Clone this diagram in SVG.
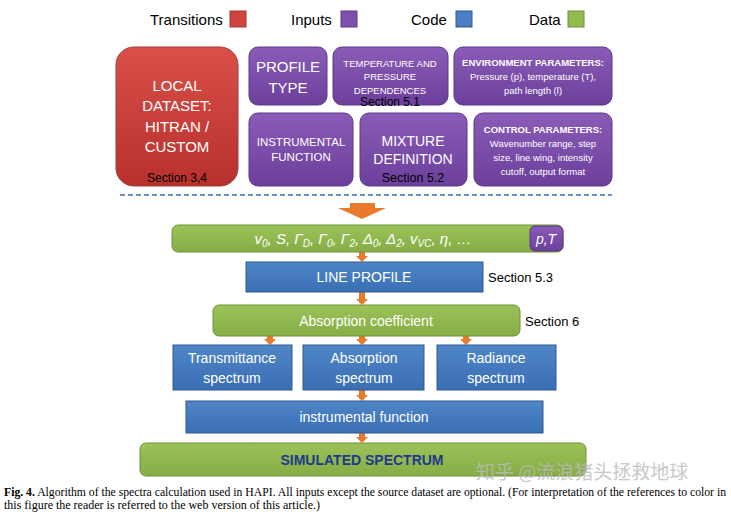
<svg xmlns="http://www.w3.org/2000/svg" width="731" height="512" viewBox="0 0 731 512">
<defs>
<linearGradient id="gr" x1="0" y1="0" x2="0" y2="1"><stop offset="0" stop-color="#d9504a"/><stop offset="1" stop-color="#b8302c"/></linearGradient>
<linearGradient id="gp" x1="0" y1="0" x2="0" y2="1"><stop offset="0" stop-color="#8a5cb8"/><stop offset="1" stop-color="#6c3f9c"/></linearGradient>
<linearGradient id="gb" x1="0" y1="0" x2="0" y2="1"><stop offset="0" stop-color="#4f86c8"/><stop offset="1" stop-color="#3a6fb3"/></linearGradient>
<linearGradient id="gg" x1="0" y1="0" x2="0" y2="1"><stop offset="0" stop-color="#9cc35a"/><stop offset="1" stop-color="#86ad45"/></linearGradient>
</defs>
<style>
text{font-family:"Liberation Sans","DejaVu Sans",sans-serif}
text.cap{font-family:"Liberation Serif",serif;font-size:11.5px;fill:#000}
text.wm{font-family:"Noto Sans CJK SC",sans-serif}
.r{fill:url(#gr);stroke:#a33a36;stroke-width:1}
.p{fill:url(#gp);stroke:#5b3a85;stroke-width:1}
.b{fill:url(#gb);stroke:#30598e;stroke-width:1}
.g{fill:url(#gg);stroke:#6f9236;stroke-width:1}
.w{fill:#fff;text-anchor:middle}
.k{fill:#000}
.a{fill:#e87a2e}
</style>
<rect width="731" height="512" fill="#fff"/>
<g id="legend" font-size="15">
<text x="150" y="25" class="k">Transitions</text><rect x="230" y="11" width="16" height="16" fill="#d04440" stroke="#a33a36"/>
<text x="291" y="25" class="k">Inputs</text><rect x="341" y="11" width="16" height="16" fill="#7e50ad" stroke="#5b3a85"/>
<text x="411" y="25" class="k">Code</text><rect x="456" y="11" width="16" height="16" fill="#4a80c3" stroke="#30598e"/>
<text x="529" y="25" class="k">Data</text><rect x="568" y="11" width="16" height="16" fill="#93bb50" stroke="#6f9236"/>
</g>
<g id="local"><rect class="r" x="116" y="47" width="122" height="139" rx="18"/>
<text class="w" font-size="15"><tspan x="177" y="91">LOCAL</tspan><tspan x="177" y="111">DATASET:</tspan><tspan x="177" y="132">HITRAN /</tspan><tspan x="177" y="152">CUSTOM</tspan></text>
<text x="177" y="182" font-size="12" text-anchor="middle" class="k">Section 3,4</text></g>
<g id="profile"><rect class="p" x="249" y="47" width="78" height="58" rx="9"/><text class="w" font-size="15"><tspan x="288" y="72">PROFILE</tspan><tspan x="288" y="93">TYPE</tspan></text></g>
<g id="temp"><rect class="p" x="333" y="47" width="115" height="58" rx="9"/><text class="w" font-size="9.5"><tspan x="390" y="67">TEMPERATURE AND</tspan><tspan x="390" y="80">PRESSURE</tspan><tspan x="390" y="94">DEPENDENCES</tspan></text><text x="390" y="106" font-size="12" text-anchor="middle" class="k">Section 5.1</text></g>
<g id="env"><rect class="p" x="454" y="47" width="158" height="58" rx="9"/><text class="w" font-size="9.5"><tspan x="533" y="66" font-weight="bold">ENVIRONMENT PARAMETERS:</tspan><tspan x="533" y="80">Pressure (p), temperature (T),</tspan><tspan x="533" y="94">path length (l)</tspan></text></g>
<g id="instr"><rect class="p" x="249" y="113" width="104" height="73" rx="9"/><text class="w" font-size="11.5"><tspan x="301" y="146">INSTRUMENTAL</tspan><tspan x="301" y="161">FUNCTION</tspan></text></g>
<g id="mixture"><rect class="p" x="360" y="113" width="107" height="73" rx="9"/><text class="w" font-size="14"><tspan x="413" y="146">MIXTURE</tspan><tspan x="413" y="164">DEFINITION</tspan></text><text x="413" y="182" font-size="12.5" text-anchor="middle" class="k">Section 5.2</text></g>
<g id="control"><rect class="p" x="474" y="113" width="138" height="73" rx="9"/><text class="w" font-size="9.5"><tspan x="543" y="133" font-weight="bold">CONTROL PARAMETERS:</tspan><tspan x="543" y="147">Wavenumber range, step</tspan><tspan x="543" y="161">size, line wing, intensity</tspan><tspan x="543" y="175">cutoff, output format</tspan></text></g>
<g id="connectors">
<line x1="120" y1="195" x2="612" y2="195" stroke="#3f6fb5" stroke-width="1.5" stroke-dasharray="5,3"/>
<polygon class="a" points="350,203 375,203 375,208 386,208 362,219 338,208 350,208"/>
<polygon class="a" points="359,252 365,252 365,256 368,256 362,262 356,256 359,256"/>
<polygon class="a" points="359,292 365,292 365,299 368,299 362,305 356,299 359,299"/>
<polygon class="a" points="267,336 273,336 273,339 276,339 270,345 264,339 267,339"/>
<polygon class="a" points="359,336 365,336 365,339 368,339 362,345 356,339 359,339"/>
<polygon class="a" points="463,336 469,336 469,339 472,339 466,345 460,339 463,339"/>
<polygon class="a" points="359,390 365,390 365,395 368,395 362,401 356,395 359,395"/>
<polygon class="a" points="359,433 365,433 365,437 368,437 362,443 356,437 359,437"/>
</g>
<g id="params"><rect class="g" x="172" y="225" width="391" height="27" rx="6"/><text x="363" y="244" font-size="15" font-style="italic" class="w">v<tspan font-size="10" dy="3">0</tspan><tspan dy="-3">, S, Γ</tspan><tspan font-size="10" dy="3">D</tspan><tspan dy="-3">, Γ</tspan><tspan font-size="10" dy="3">0</tspan><tspan dy="-3">, Γ</tspan><tspan font-size="10" dy="3">2</tspan><tspan dy="-3">, Δ</tspan><tspan font-size="10" dy="3">0</tspan><tspan dy="-3">, Δ</tspan><tspan font-size="10" dy="3">2</tspan><tspan dy="-3">, v</tspan><tspan font-size="10" dy="3">VC</tspan><tspan dy="-3">,  η, …</tspan></text>
<rect class="p" x="530" y="226" width="33" height="25" rx="5"/><text x="546" y="244" font-size="14" font-style="italic" class="w">p,T</text></g>
<g id="lineprofile"><rect class="b" x="246" y="262" width="237" height="30"/><text x="364" y="282" font-size="14" class="w">LINE PROFILE</text><text x="488" y="282" font-size="13" class="k">Section 5.3</text></g>
<g id="abscoef"><rect class="g" x="213" y="305" width="307" height="31" rx="6"/><text x="366" y="326" font-size="14" class="w">Absorption coefficient</text><text x="525" y="326" font-size="13" class="k">Section 6</text></g>
<g id="trans"><rect class="b" x="173" y="345" width="119" height="45"/><text class="w" font-size="14"><tspan x="232" y="363">Transmittance</tspan><tspan x="232" y="383">spectrum</tspan></text></g>
<g id="absspec"><rect class="b" x="303" y="345" width="121" height="45"/><text class="w" font-size="14"><tspan x="364" y="363">Absorption</tspan><tspan x="364" y="383">spectrum</tspan></text></g>
<g id="rad"><rect class="b" x="437" y="345" width="119" height="45"/><text class="w" font-size="14"><tspan x="496" y="363">Radiance</tspan><tspan x="496" y="383">spectrum</tspan></text></g>
<g id="instrfn"><rect class="b" x="186" y="401" width="357" height="32"/><text x="364" y="422" font-size="14" class="w">instrumental function</text></g>
<g id="sim"><rect class="g" x="140" y="443" width="446" height="33" rx="6"/><text x="362" y="465" font-size="14" font-weight="bold" text-anchor="middle" fill="#1f3a8a">SIMULATED SPECTRUM</text></g>
<text class="wm" x="476" y="479" font-size="19" fill="#bbb" opacity="0.8">知乎 @流浪猪头拯救地球</text>
<text class="cap" x="4" y="496" textLength="722" lengthAdjust="spacingAndGlyphs"><tspan font-weight="bold">Fig. 4.</tspan>  Algorithm of the spectra calculation used in HAPI. All inputs except the source dataset are optional. (For interpretation of the references to color in</text>
<text class="cap" x="4" y="509" textLength="316" lengthAdjust="spacingAndGlyphs">this figure the reader is referred to the web version of this article.)</text>
</svg>
